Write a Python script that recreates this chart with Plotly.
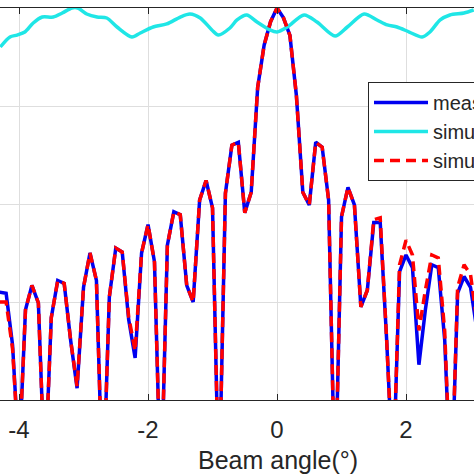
import plotly.graph_objects as go

# Beam angle samples (degrees), 0.1 deg step
angles = [round(-4.3 + 0.1 * i, 1) for i in range(75)]  # -4.3 ... 3.1

measured = [
    -29.0, -29.1, -34.4, -46.0, -30.8, -28.3, -30.1, -48.0, -31.6, -27.8,   # -4.3 .. -3.4
    -28.1, -33.9, -38.8, -28.5, -25.0, -27.8, -50.0, -29.5, -24.5, -24.9,   # -3.3 .. -2.4
    -31.8, -35.7, -25.0, -22.1, -25.9, -50.0, -24.2, -20.8, -21.1, -28.3,   # -2.3 .. -1.4
    -30.0, -19.6, -17.6, -20.4, -50.0, -18.9, -14.0, -13.7, -20.9, -18.8,   # -1.3 .. -0.4
    -8.1, -3.8, -1.4, 0.0, -1.0, -2.8, -8.9, -18.8, -20.1, -13.7,          # -0.3 .. 0.6
    -14.2, -19.6, -50.0, -21.3, -18.3, -20.1, -30.5, -28.8, -21.9, -21.9,   # 0.7 .. 1.6
    -33.9, -48.0, -26.9, -25.2, -26.5, -36.4, -30.8, -26.2, -26.5, -33.9,   # 1.7 .. 2.6
    -50.0, -29.1, -27.4, -28.5, -32.9,                                      # 2.7 .. 3.1
]

simulated_b = [
    -30.0, -30.0, -34.8, -46.0, -30.8, -28.3, -30.1, -48.0, -31.6, -27.8,
    -28.1, -33.9, -38.6, -28.5, -25.0, -27.8, -50.0, -29.5, -24.5, -24.9,
    -31.5, -35.0, -25.0, -22.1, -25.9, -50.0, -24.2, -20.8, -21.1, -28.3,
    -30.0, -19.6, -17.6, -20.4, -50.0, -18.9, -14.0, -13.7, -20.9, -18.8,
    -8.1, -3.8, -1.4, 0.0, -1.0, -2.8, -8.9, -18.8, -20.1, -13.7,
    -14.2, -19.6, -50.0, -21.3, -18.3, -20.1, -30.5, -28.8, -21.6, -21.4,
    -33.9, -48.0, -26.2, -23.7, -25.2, -32.9, -28.8, -25.2, -25.5, -33.0,
    -50.0, -28.5, -26.2, -27.2, -32.0,
]

cyan_angles = [
    -4.29, -4.14, -4.03, -3.91, -3.78, -3.64, -3.47, -3.33, -3.18, -3.09,
    -2.95, -2.79, -2.64, -2.48, -2.25, -2.12, -1.92, -1.71, -1.50, -1.35,
    -1.19, -1.01, -0.91, -0.73, -0.62, -0.47, -0.31, -0.11, 0.00, 0.16,
    0.42, 0.62, 0.90, 1.09, 1.35, 1.55, 1.71, 1.86, 2.05, 2.25,
    2.37, 2.53, 2.68, 2.90, 3.05,
]
simulated_a = [
    -3.98, -2.96, -2.76, -2.45, -1.53, -0.92, -0.92, -0.51, 0.00, 0.00,
    -0.61, -0.92, -1.02, -1.94, -2.96, -2.55, -1.94, -1.63, -0.92, -0.61,
    -1.02, -2.24, -2.76, -2.04, -1.22, -0.71, -1.43, -2.24, -2.45, -1.94,
    -0.71, -1.43, -2.86, -1.94, -0.61, -1.22, -1.73, -1.94, -2.45, -2.96,
    -2.45, -1.22, -0.71, -0.51, -0.20,
]

x_ticks = [-4, -2, 0, 2]
x_tick_labels = ["-4", "-2", "0", "2"]
y_ticks = [-40, -30, -20, -10, 0]

FONT = "Liberation Sans, Arial, sans-serif"
AX = "#262626"
GRID = "#dedede"

fig = go.Figure()
fig.add_trace(go.Scatter(x=angles, y=measured, mode="lines", name="measured",
                         line=dict(color="#0000f0", width=3.5)))
fig.add_trace(go.Scatter(x=cyan_angles, y=simulated_a, mode="lines", name="simulated (array)",
                         line=dict(color="#1fe6e6", width=3.5, shape="spline", smoothing=0.8)))
fig.add_trace(go.Scatter(x=angles, y=simulated_b, mode="lines", name="simulated (element)",
                         line=dict(color="#ff0000", width=3.5, dash="10px,6px")))

fig.update_layout(
    width=474, height=474,
    margin=dict(l=0, r=0, t=8, b=74, autoexpand=False),
    paper_bgcolor="white", plot_bgcolor="white",
    font=dict(family=FONT, size=24, color=AX),
    showlegend=True,
    legend=dict(x=368 / 474, y=(400 - 82) / 392, xanchor="left", yanchor="top",
                bgcolor="white", bordercolor=AX, borderwidth=1,
                font=dict(family=FONT, size=20, color=AX),
                tracegroupgap=0, itemwidth=54),
    xaxis=dict(range=[-4.295, 3.054], tickvals=x_ticks, ticktext=x_tick_labels,
               showgrid=True, gridcolor=GRID, gridwidth=1, zeroline=False,
               showline=True, linecolor=AX, linewidth=1, mirror="ticks",
               ticks="inside", ticklen=6, tickcolor=AX, ticklabelstandoff=8,
               tickfont=dict(family=FONT, size=24, color=AX)),
    yaxis=dict(range=[-40, 0], tickvals=y_ticks, showgrid=True, gridcolor=GRID,
               gridwidth=1, zeroline=False, showline=False, showticklabels=False,
               ticks=""),
    annotations=[dict(text="Beam angle(°)", xref="paper", yref="paper",
                      x=278 / 474, y=(400 - 460) / 392, xanchor="center", yanchor="middle",
                      showarrow=False, font=dict(family=FONT, size=25, color=AX))],
)

fig.write_html("out.html")
